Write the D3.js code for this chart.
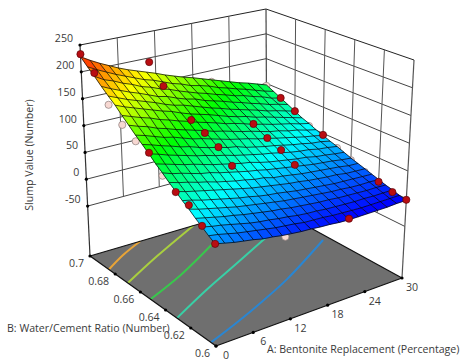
<!DOCTYPE html>
<html lang="en">
<head>
    <meta charset="UTF-8">
    <title>Slump value response surface</title>
    <style>
        html, body { margin: 0; padding: 0; background: #fff; }
        text { font-family: "Open Sans", sans-serif; font-size: 10.6px; fill: #3a3a3a; }
    </style>
    <script src="https://d3js.org/d3.v7.min.js"></script>
</head>
<body>
<svg id="chart" width="474" height="363"></svg>

<script>
    const zTicks = [250, 200, 150, 100, 50, 0, -50];
    const aTicks = [0, 6, 12, 18, 24, 30];
    const bTicks = [0.7, 0.68, 0.66, 0.64, 0.62, 0.6];

    // response surface, rows go B 0.70 -> 0.60, columns go A 0 -> 30
    const surfaceZ = [
        [228,218,209,201,193,186,180,174,168,161,155,149,144,138,132,126,120,114,109,103,97],
        [216,207,199,191,184,177,170,165,158,151,146,139,135,130,123,118,112,107,101,95,90],
        [205,195,189,181,175,167,162,155,150,143,137,131,126,120,115,109,105,99,94,87,83],
        [193,185,178,171,165,158,151,147,140,134,130,123,118,113,107,102,96,91,85,81,76],
        [182,175,168,162,156,150,143,137,133,127,121,115,110,104,99,94,89,83,79,74,69],
        [172,165,159,153,147,141,136,129,123,118,113,107,101,96,92,86,82,77,72,67,62],
        [160,154,148,143,136,131,125,120,114,109,104,98,94,89,83,79,74,70,66,61,57],
        [149,143,138,131,126,120,115,110,105,99,95,90,85,81,76,71,68,63,60,55,51],
        [138,133,127,121,117,111,105,101,96,91,86,82,78,73,69,65,61,57,53,50,46],
        [128,123,117,112,106,102,96,91,87,82,79,73,69,65,62,58,54,51,47,45,41],
        [118,113,107,102,97,92,88,83,79,74,70,66,62,59,55,51,48,46,42,40,37],
        [107,102,97,92,88,83,78,74,70,66,63,58,54,51,48,45,43,39,37,34,32],
        [98,92,88,83,78,75,70,66,62,58,55,51,48,45,42,39,36,34,32,29,27],
        [88,83,79,74,70,65,61,57,54,50,48,43,41,38,35,33,31,29,27,24,23],
        [79,74,70,66,62,58,54,50,46,43,40,37,34,32,29,27,25,24,21,20,19],
        [70,66,61,57,53,49,45,42,38,35,33,30,27,25,23,21,19,18,17,16,15],
        [62,57,53,49,45,41,38,35,32,29,26,24,22,20,18,16,15,13,12,12,11],
        [53,49,45,41,38,34,31,28,25,23,20,18,16,14,13,11,10,9,8,8,7],
        [45,41,38,34,30,26,23,21,18,16,13,11,10,8,7,6,5,5,4,4,4],
        [37,34,30,26,23,20,17,14,12,10,7,6,5,3,2,1,0,0,0,0,0],
        [30,26,22,19,16,12,10,7,5,3,2,0,-1,-3,-4,-4,-4,-4,-4,-3,-3]
    ];

    // design points above the surface
    const aboveA = [0, 0, 0, 0, 0, 0, 0, 11, 11, 11, 11, 11, 11, 21, 21, 21, 21, 30, 30, 30, 30, 30, 30, 21];
    const aboveB = [0.7, 0.69, 0.65, 0.63, 0.62, 0.61, 0.6, 0.7, 0.69, 0.67, 0.66, 0.65, 0.64, 0.67, 0.66, 0.65, 0.64, 0.69, 0.68, 0.66, 0.62, 0.61, 0.6, 0.6];
    const aboveZ = [233, 211, 120, 78, 69, 47, 30, 192, 159, 121, 110, 97, 76, 84, 70, 60, 45, 83, 69, 47, 7, 0, -2, -2];

    // design points below the surface
    const belowA = [0, 0, 0, 0, 21, 30, 30, 30, 30, 30, 11];
    const belowB = [0.68, 0.67, 0.66, 0.64, 0.7, 0.7, 0.67, 0.65, 0.64, 0.63, 0.6];
    const belowZ = [166, 143, 127, 93, 128, 95, 52, 34, 23, 13, 3];

    // contours on the floor
    const contourA = [
        [0, 4.1, 8.5],
        [0, 7.9, 17.5],
        [0, 7.3, 16.3],
        [0, 7.8, 15, 23.7],
        [0, 5.9, 11.8, 18.3, 29]
    ];
    const contourB = [
        [0.685, 0.693, 0.7],
        [0.67, 0.684, 0.7],
        [0.652, 0.663, 0.68],
        [0.631, 0.645, 0.657, 0.672],
        [0.604, 0.612, 0.621, 0.632, 0.654]
    ];
    const contourColors = ["#e8a437", "#a9cf3f", "#38c84c", "#38d0a6", "#2a86d2"];

    const svg = d3.select("#chart");

    const scaleA = d3.scaleLinear().domain([0, 30]).range([0, 1]);
    const scaleB = d3.scaleLinear().domain([0.7, 0.6]).range([0, 1]);
    const scaleZ = d3.scaleLinear().domain([-143, 250]).range([0, 1]);
    const jet = d3.scaleLinear()
        .domain([-3, 56, 115, 174, 233])
        .range(["#0000ff", "#00ffff", "#00ff00", "#ffff00", "#ff0000"]);

    // box corners go left, back, right, front. ticks in the picture are evenly spaced so bilinear is enough
    function quad(p) {
        return function (u, v) {
            const k = [(1 - u) * (1 - v), u * (1 - v), u * v, (1 - u) * v];
            return [d3.sum(p, (c, i) => c[0] * k[i]), d3.sum(p, (c, i) => c[1] * k[i])];
        };
    }

    const floorAt = quad([[90, 256], [267, 204], [402, 278], [216, 346]]);
    const topAt = quad([[80, 45], [266, 9], [414, 60], [214, 114]]);

    function project(a, b, z) {
        const u = scaleA(a), v = scaleB(b), w = scaleZ(z);
        const p0 = floorAt(u, v), p1 = topAt(u, v);
        return [p0[0] + (p1[0] - p0[0]) * w, p0[1] + (p1[1] - p0[1]) * w];
    }

    const bMax = 0.7, bMin = 0.6, aMin = 0, aMax = 30, zLow = -143;

    function wallLine(p, q, color, width) {
        svg.append("line")
            .attr("x1", p[0]).attr("y1", p[1])
            .attr("x2", q[0]).attr("y2", q[1])
            .attr("stroke", color)
            .attr("stroke-width", width);
    }

    // back walls
    zTicks.forEach(function (z) {
        const c = z === 250 ? "#222" : "#444";
        wallLine(project(aMin, bMax, z), project(aMax, bMax, z), c, 1);
        wallLine(project(aMax, bMax, z), project(aMax, bMin, z), c, 1);
    });
    aTicks.slice(1, -1).forEach(function (a) {
        wallLine(project(a, bMax, 250), project(a, bMax, -50), "#555", 1);
    });
    bTicks.slice(1, -1).forEach(function (b) {
        wallLine(project(aMax, b, 250), project(aMax, b, -50), "#555", 1);
    });
    wallLine(project(aMax, bMax, 250), project(aMax, bMax, zLow), "#444", 1.2);

    // floor
    svg.append("path")
        .attr("d", d3.line()([
            project(aMin, bMax, zLow), project(aMax, bMax, zLow),
            project(aMax, bMin, zLow), project(aMin, bMin, zLow)
        ]) + "Z")
        .attr("fill", "#6f6f6f");

    const contourLine = d3.line().curve(d3.curveCatmullRom);
    contourA.forEach(function (as, i) {
        svg.append("path")
            .attr("d", contourLine(as.map((a, j) => project(a, contourB[i][j], zLow))))
            .attr("fill", "none")
            .attr("stroke", contourColors[i])
            .attr("stroke-width", 2);
    });

    // floor edges and corner posts
    wallLine(project(aMin, bMax, zLow), project(aMax, bMax, zLow), "#111", 1.2);
    wallLine(project(aMax, bMax, zLow), project(aMax, bMin, zLow), "#111", 1.2);
    wallLine(project(aMin, bMax, zLow), project(aMin, bMin, zLow), "#111", 1.2);
    wallLine(project(aMin, bMin, zLow), project(aMax, bMin, zLow), "#111", 1.2);
    wallLine(project(aMin, bMax, 250), project(aMin, bMax, zLow), "#333", 1.2);
    wallLine(project(aMax, bMin, 250), project(aMax, bMin, zLow), "#555", 1.2);

    function tickDot(p) {
        svg.append("circle").attr("cx", p[0]).attr("cy", p[1]).attr("r", 1.6).attr("fill", "#000");
    }

    zTicks.forEach(function (z) {
        const p = project(aMin, bMax, z);
        tickDot(p);
        svg.append("text")
            .attr("x", p[0] - 7).attr("y", p[1] - 3)
            .attr("text-anchor", "end")
            .text(z);
    });
    aTicks.forEach(function (a) {
        const p = project(a, bMin, zLow);
        tickDot(p);
        svg.append("text")
            .attr("x", p[0] + 10).attr("y", p[1] + 13)
            .attr("text-anchor", "middle")
            .text(a);
    });
    bTicks.forEach(function (b) {
        const p = project(aMin, b, zLow);
        tickDot(p);
        svg.append("text")
            .attr("x", p[0] - 6).attr("y", p[1] + 11)
            .attr("text-anchor", "end")
            .text(b);
    });

    function drawPoints(as, bs, zs, fill, stroke) {
        svg.append("g").selectAll("circle")
            .data(as)
            .join("circle")
            .attr("cx", (a, i) => project(a, bs[i], zs[i])[0])
            .attr("cy", (a, i) => project(a, bs[i], zs[i])[1])
            .attr("r", 3.6)
            .attr("fill", fill)
            .attr("stroke", stroke)
            .attr("stroke-width", 0.7);
    }

    drawPoints(belowA, belowB, belowZ, "#f7d8d2", "#8a7a78");

    // surface cells first with no outline, the mesh goes on top so edges are not stroked twice
    const nB = surfaceZ.length, nA = surfaceZ[0].length;
    const gridA = d3.scaleLinear().domain([0, nA - 1]).range([aMin, aMax]);
    const gridB = d3.scaleLinear().domain([0, nB - 1]).range([bMax, bMin]);
    const cells = svg.append("g");
    for (let r = 0; r < nB - 1; r++) {
        for (let c = 0; c < nA - 1; c++) {
            const mean = d3.mean([surfaceZ[r][c], surfaceZ[r][c + 1], surfaceZ[r + 1][c], surfaceZ[r + 1][c + 1]]);
            const color = jet(mean);
            cells.append("path")
                .attr("d", d3.line()([
                    project(gridA(c), gridB(r), surfaceZ[r][c]),
                    project(gridA(c + 1), gridB(r), surfaceZ[r][c + 1]),
                    project(gridA(c + 1), gridB(r + 1), surfaceZ[r + 1][c + 1]),
                    project(gridA(c), gridB(r + 1), surfaceZ[r + 1][c])
                ]) + "Z")
                .attr("fill", color)
                .attr("stroke", color)
                .attr("stroke-width", 0.4);
        }
    }
    const mesh = svg.append("g")
        .attr("fill", "none")
        .attr("stroke", "#000")
        .attr("stroke-opacity", 0.8)
        .attr("stroke-width", 0.9);
    surfaceZ.forEach(function (row, r) {
        mesh.append("path").attr("d", d3.line()(row.map((z, c) => project(gridA(c), gridB(r), z))));
    });
    d3.range(nA).forEach(function (c) {
        mesh.append("path").attr("d", d3.line()(surfaceZ.map((row, r) => project(gridA(c), gridB(r), row[c]))));
    });

    drawPoints(aboveA, aboveB, aboveZ, "#b90d12", "#5c0508");

    svg.append("text")
        .attr("transform", "translate(33,155) rotate(-90)")
        .attr("text-anchor", "middle")
        .text("Slump Value (Number)");
    svg.append("text")
        .attr("x", 7).attr("y", 332)
        .text("B: Water/Cement Ratio (Number)");
    svg.append("text")
        .attr("x", 267).attr("y", 353)
        .text("A: Bentonite Replacement (Percentage)");
</script>
</body>
</html>
